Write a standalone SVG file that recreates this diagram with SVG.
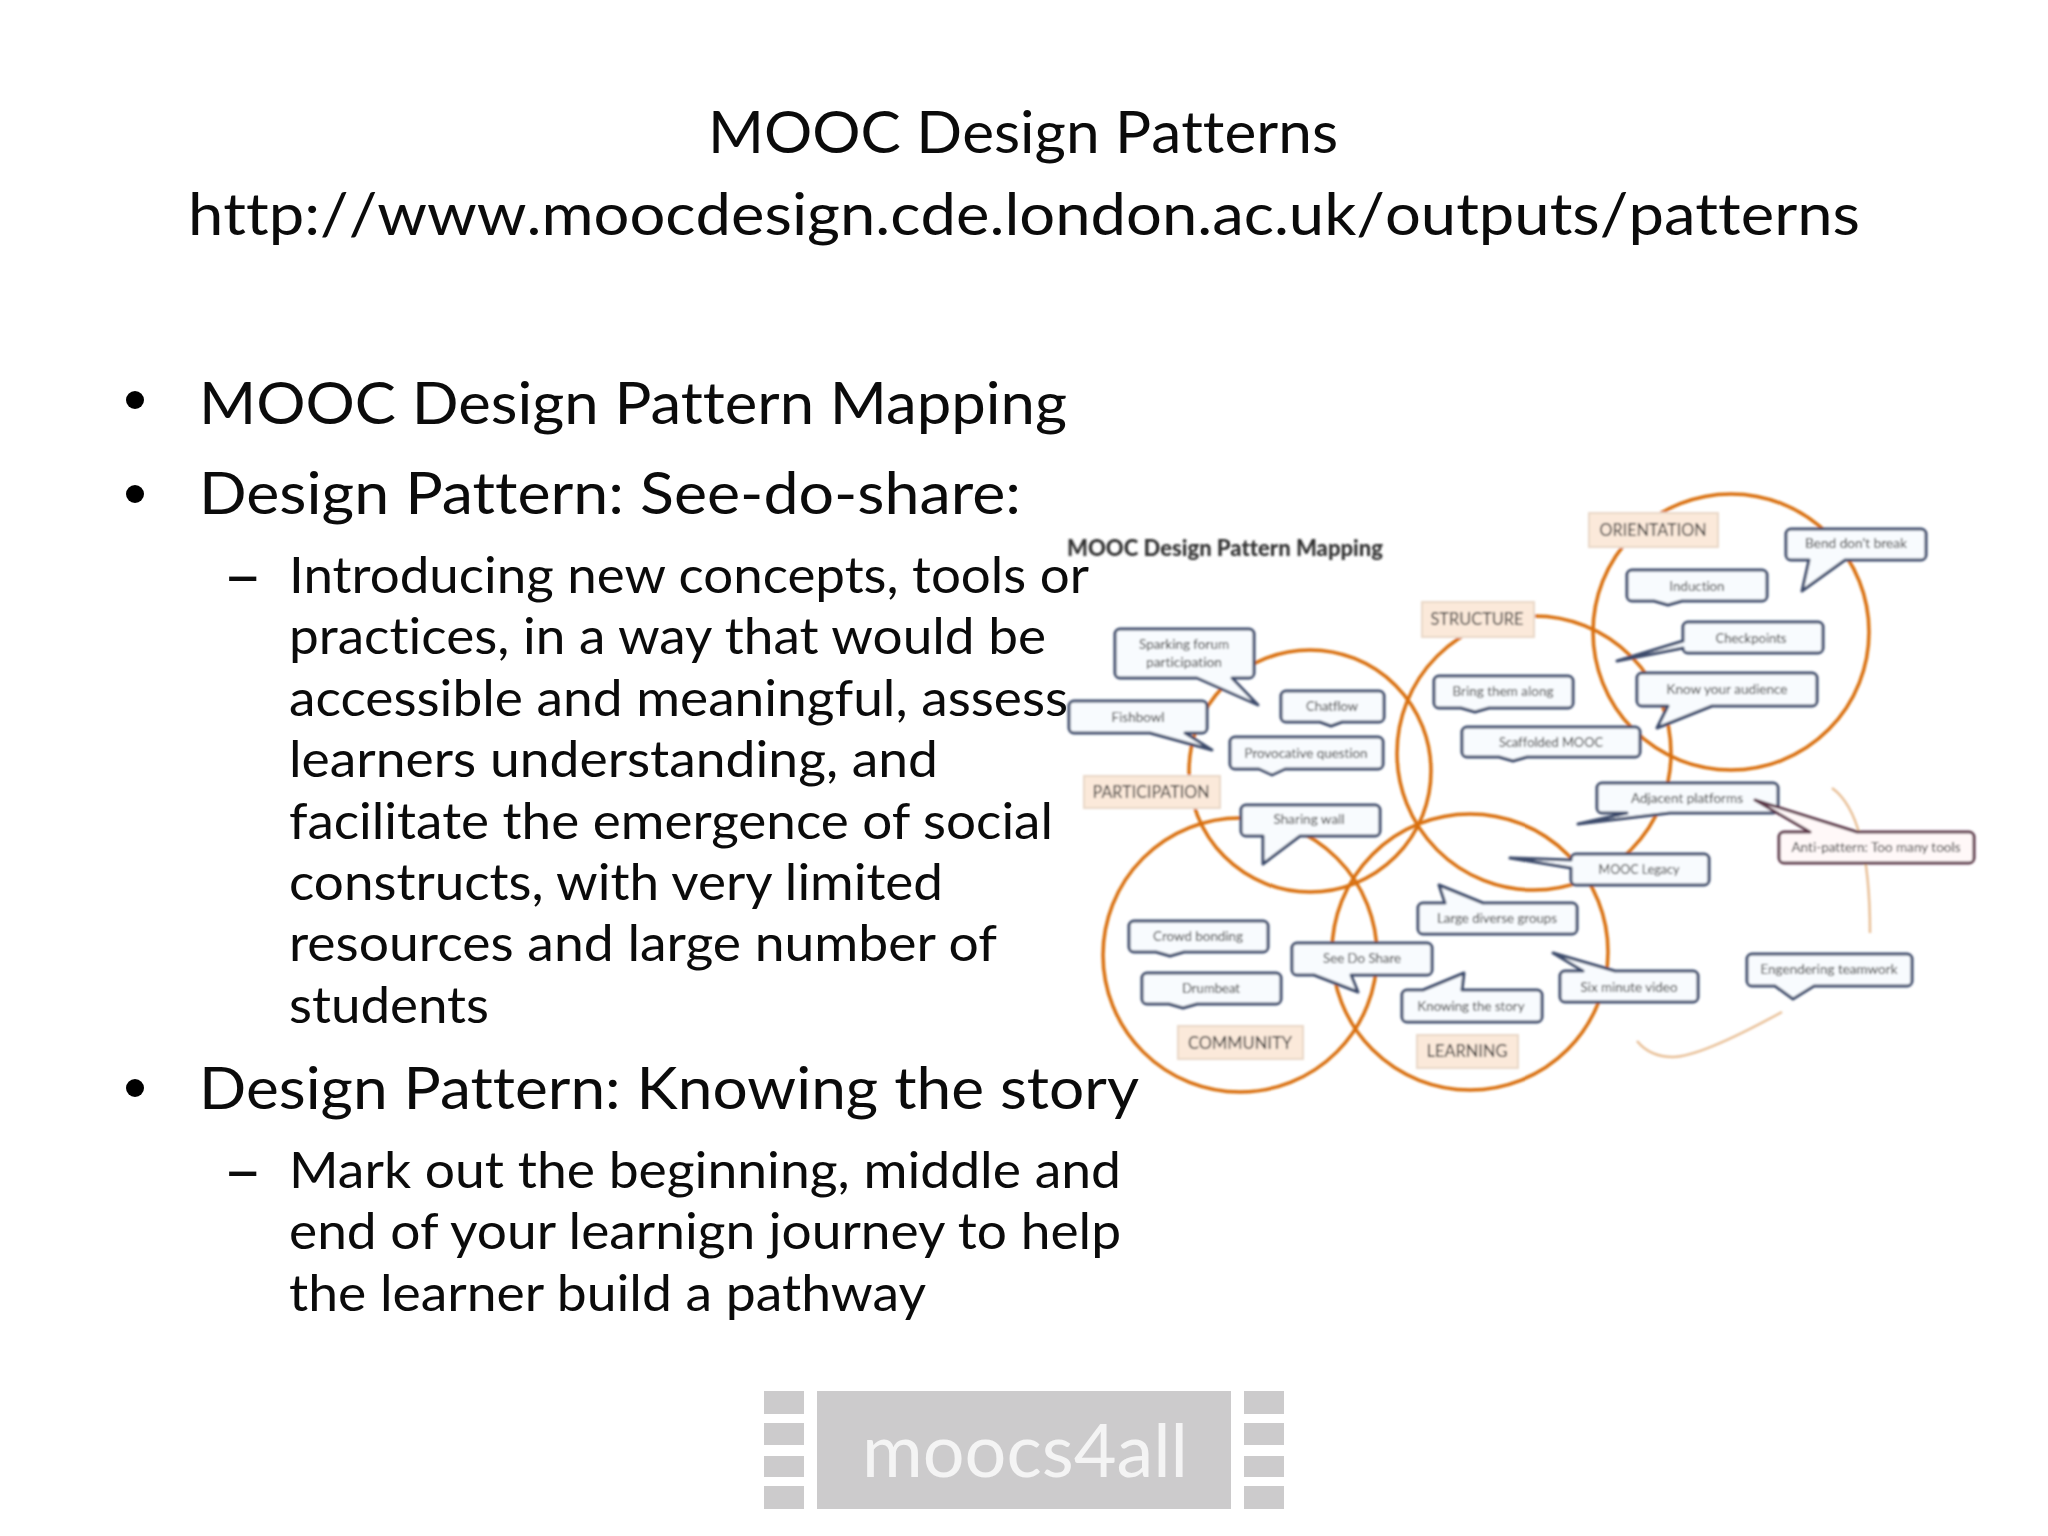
<svg xmlns="http://www.w3.org/2000/svg" width="2048" height="1536" viewBox="0 0 2048 1536">
<defs>
<filter id="soft" x="-5%" y="-5%" width="110%" height="110%"><feGaussianBlur stdDeviation="0.8"/></filter>
<style>
text{font-family:"Lato","Carlito","Open Sans",sans-serif;fill:#0b0b0b;font-variant-ligatures:none}
.h{font-size:58px;font-kerning:none}
.b{font-size:58px}
.s{font-size:50px}
.d{font-size:68px}
.c{fill:none;stroke:#d96f0e;stroke-width:3.5}
.f{fill:none;stroke:#e8bf96;stroke-width:2.5}
.k{fill:#f8fbfe;stroke:#3c4c6c;stroke-width:3;stroke-linejoin:round}
.p{fill:#fff8f8;stroke:#5f3a4c;stroke-width:3;stroke-linejoin:round}
.l{fill:#fbe9da;stroke:#e9d8c8;stroke-width:2}
.t{font-size:13px;fill:#2e2e2e;text-anchor:middle}
.lt{font-size:17px;fill:#2a2a2a;text-anchor:middle}
.g{fill:#cccbcc}
</style>
</defs>
<rect width="2048" height="1536" fill="#fff"/>
<g id="title">
<text class="h" x="708" y="153" textLength="630" lengthAdjust="spacingAndGlyphs">MOOC Design Patterns</text>
<text class="h" x="188" y="235" textLength="1672" lengthAdjust="spacingAndGlyphs">http://www.moocdesign.cde.london.ac.uk/outputs/patterns</text>
</g>
<g id="body">
<circle cx="135" cy="400" r="9" fill="#000"/>
<text class="b" x="199" y="424" textLength="868" lengthAdjust="spacingAndGlyphs">MOOC Design Pattern Mapping</text>
<circle cx="135" cy="494" r="9" fill="#000"/>
<text class="b" x="199" y="514" textLength="822" lengthAdjust="spacingAndGlyphs">Design Pattern: See-do-share:</text>
<text class="d" x="223" y="599">–</text>
<text class="s" x="289" y="593" textLength="800" lengthAdjust="spacingAndGlyphs">Introducing new concepts, tools or</text>
<text class="s" x="289" y="654" textLength="757" lengthAdjust="spacingAndGlyphs">practices, in a way that would be</text>
<text class="s" x="289" y="716" textLength="779" lengthAdjust="spacingAndGlyphs">accessible and meaningful, assess</text>
<text class="s" x="289" y="777" textLength="649" lengthAdjust="spacingAndGlyphs">learners understanding, and</text>
<text class="s" x="289" y="839" textLength="764" lengthAdjust="spacingAndGlyphs">facilitate the emergence of social</text>
<text class="s" x="289" y="900" textLength="654" lengthAdjust="spacingAndGlyphs">constructs, with very limited</text>
<text class="s" x="289" y="961" textLength="708" lengthAdjust="spacingAndGlyphs">resources and large number of</text>
<text class="s" x="289" y="1023" textLength="200" lengthAdjust="spacingAndGlyphs">students</text>
<circle cx="135" cy="1088" r="9" fill="#000"/>
<text class="b" x="199" y="1109" textLength="940" lengthAdjust="spacingAndGlyphs">Design Pattern: Knowing the story</text>
<text class="d" x="223" y="1194">–</text>
<text class="s" x="289" y="1188" textLength="832" lengthAdjust="spacingAndGlyphs">Mark out the beginning, middle and</text>
<text class="s" x="289" y="1249" textLength="832" lengthAdjust="spacingAndGlyphs">end of your learnign journey to help</text>
<text class="s" x="289" y="1311" textLength="637" lengthAdjust="spacingAndGlyphs">the learner build a pathway</text>
</g>
<g id="diagram" filter="url(#soft)">
<text x="1067" y="556" font-size="23" font-weight="900" style="fill:#333" textLength="316" lengthAdjust="spacingAndGlyphs">MOOC Design Pattern Mapping</text>
<g id="circles">
<circle class="c" cx="1310" cy="771" r="121"/>
<circle class="c" cx="1240" cy="955" r="137"/>
<circle class="c" cx="1470" cy="952" r="138"/>
<circle class="c" cx="1534" cy="753" r="137"/>
<circle class="c" cx="1731" cy="632" r="138"/>
</g>
<g id="connectors">
<path class="f" d="M1637 1041Q1650 1057 1673 1057Q1700 1057 1782 1012"/>
<path class="f" d="M1832 788Q1870 815 1870 933"/>
</g>
<g id="participation"><rect class="l" x="1084" y="776" width="136" height="32"/><text class="lt" x="1151" y="798" textLength="117" lengthAdjust="spacingAndGlyphs">PARTICIPATION</text></g>
<g id="structure"><rect class="l" x="1422" y="602" width="112" height="35"/><text class="lt" x="1477" y="625" textLength="93" lengthAdjust="spacingAndGlyphs">STRUCTURE</text></g>
<g id="orientation"><rect class="l" x="1589" y="513" width="129" height="34"/><text class="lt" x="1653" y="536" textLength="107" lengthAdjust="spacingAndGlyphs">ORIENTATION</text></g>
<g id="community"><rect class="l" x="1178" y="1026" width="125" height="33"/><text class="lt" x="1240" y="1049" textLength="104" lengthAdjust="spacingAndGlyphs">COMMUNITY</text></g>
<g id="learning"><rect class="l" x="1417" y="1035" width="101" height="33"/><text class="lt" x="1467" y="1057" textLength="81" lengthAdjust="spacingAndGlyphs">LEARNING</text></g>

<g id="sparking"><path class="k" d="M1120 629H1249a5 5 0 0 1 5 5V673a5 5 0 0 1 -5 5H1232L1258 705L1197 678H1120a5 5 0 0 1 -5 -5V634a5 5 0 0 1 5 -5Z"/><text class="t" x="1184" y="649" textLength="90" lengthAdjust="spacingAndGlyphs">Sparking forum</text><text class="t" x="1184" y="667" textLength="76" lengthAdjust="spacingAndGlyphs">participation</text></g>
<g id="fishbowl"><path class="k" d="M1074 701H1202a5 5 0 0 1 5 5V728a5 5 0 0 1 -5 5H1185L1212 750L1150 733H1074a5 5 0 0 1 -5 -5V706a5 5 0 0 1 5 -5Z"/><text class="t" x="1138" y="722" textLength="53" lengthAdjust="spacingAndGlyphs">Fishbowl</text></g>
<g id="chatflow"><path class="k" d="M1286 691H1379a5 5 0 0 1 5 5V717a5 5 0 0 1 -5 5H1342L1331 726L1320 722H1286a5 5 0 0 1 -5 -5V696a5 5 0 0 1 5 -5Z"/><text class="t" x="1332" y="711" textLength="52" lengthAdjust="spacingAndGlyphs">Chatflow</text></g>
<g id="provocative"><path class="k" d="M1235 737H1378a5 5 0 0 1 5 5V764a5 5 0 0 1 -5 5H1285L1272 775L1259 769H1235a5 5 0 0 1 -5 -5V742a5 5 0 0 1 5 -5Z"/><text class="t" x="1306" y="758" textLength="123" lengthAdjust="spacingAndGlyphs">Provocative question</text></g>
<g id="sharing-wall"><path class="k" d="M1246 805H1375a5 5 0 0 1 5 5V831a5 5 0 0 1 -5 5H1300L1263 864V836H1246a5 5 0 0 1 -5 -5V810a5 5 0 0 1 5 -5Z"/><text class="t" x="1309" y="824" textLength="71" lengthAdjust="spacingAndGlyphs">Sharing wall</text></g>

<g id="bring-them-along"><path class="k" d="M1439 676H1568a5 5 0 0 1 5 5V703a5 5 0 0 1 -5 5H1489L1475 712L1461 708H1439a5 5 0 0 1 -5 -5V681a5 5 0 0 1 5 -5Z"/><text class="t" x="1503" y="696" textLength="101" lengthAdjust="spacingAndGlyphs">Bring them along</text></g>
<g id="scaffolded"><path class="k" d="M1467 727H1635a5 5 0 0 1 5 5V752a5 5 0 0 1 -5 5H1527L1513 761L1499 757H1467a5 5 0 0 1 -5 -5V732a5 5 0 0 1 5 -5Z"/><text class="t" x="1551" y="747" textLength="104" lengthAdjust="spacingAndGlyphs">Scaffolded MOOC</text></g>

<g id="bend"><path class="k" d="M1791 529H1921a5 5 0 0 1 5 5V555a5 5 0 0 1 -5 5H1845L1802 591L1809 560H1791a5 5 0 0 1 -5 -5V534a5 5 0 0 1 5 -5Z"/><text class="t" x="1856" y="548" textLength="102" lengthAdjust="spacingAndGlyphs">Bend don't break</text></g>
<g id="induction"><path class="k" d="M1632 570H1762a5 5 0 0 1 5 5V596a5 5 0 0 1 -5 5H1682L1668 605L1654 601H1632a5 5 0 0 1 -5 -5V575a5 5 0 0 1 5 -5Z"/><text class="t" x="1697" y="591" textLength="55" lengthAdjust="spacingAndGlyphs">Induction</text></g>
<g id="checkpoints"><path class="k" d="M1688 622H1818a5 5 0 0 1 5 5V648a5 5 0 0 1 -5 5H1688a5 5 0 0 1 -5 -5L1617 661L1683 641V627a5 5 0 0 1 5 -5Z"/><text class="t" x="1751" y="643" textLength="71" lengthAdjust="spacingAndGlyphs">Checkpoints</text></g>
<g id="know"><path class="k" d="M1642 673H1812a5 5 0 0 1 5 5V701a5 5 0 0 1 -5 5H1712L1657 728L1668 706H1642a5 5 0 0 1 -5 -5V678a5 5 0 0 1 5 -5Z"/><text class="t" x="1727" y="694" textLength="121" lengthAdjust="spacingAndGlyphs">Know your audience</text></g>
<g id="adjacent"><path class="k" d="M1602 783H1773a5 5 0 0 1 5 5V808a5 5 0 0 1 -5 5H1670L1578 824L1627 813H1602a5 5 0 0 1 -5 -5V788a5 5 0 0 1 5 -5Z"/><text class="t" x="1687" y="803" textLength="112" lengthAdjust="spacingAndGlyphs">Adjacent platforms</text></g>
<g id="anti-pattern"><path class="p" d="M1784 832H1810L1755 800L1857 832H1969a5 5 0 0 1 5 5V858a5 5 0 0 1 -5 5H1784a5 5 0 0 1 -5 -5V837a5 5 0 0 1 5 -5Z"/><text class="t" x="1876" y="852" textLength="169" lengthAdjust="spacingAndGlyphs">Anti-pattern: Too many tools</text></g>
<g id="mooc-legacy"><path class="k" d="M1576 854H1704a5 5 0 0 1 5 5V880a5 5 0 0 1 -5 5H1576a5 5 0 0 1 -5 -5V868L1510 858L1571 860V859a5 5 0 0 1 5 -5Z"/><text class="t" x="1639" y="874" textLength="81" lengthAdjust="spacingAndGlyphs">MOOC Legacy</text></g>
<g id="large-diverse"><path class="k" d="M1423 903H1445L1439 885L1483 903H1572a5 5 0 0 1 5 5V929a5 5 0 0 1 -5 5H1423a5 5 0 0 1 -5 -5V908a5 5 0 0 1 5 -5Z"/><text class="t" x="1497" y="923" textLength="120" lengthAdjust="spacingAndGlyphs">Large diverse groups</text></g>
<g id="six-minute"><path class="k" d="M1565 971H1583L1553 953L1615 971H1693a5 5 0 0 1 5 5V997a5 5 0 0 1 -5 5H1565a5 5 0 0 1 -5 -5V976a5 5 0 0 1 5 -5Z"/><text class="t" x="1629" y="992" textLength="97" lengthAdjust="spacingAndGlyphs">Six minute video</text></g>
<g id="engendering"><path class="k" d="M1752 954H1907a5 5 0 0 1 5 5V981a5 5 0 0 1 -5 5H1814L1793 999L1775 986H1752a5 5 0 0 1 -5 -5V959a5 5 0 0 1 5 -5Z"/><text class="t" x="1829" y="974" textLength="137" lengthAdjust="spacingAndGlyphs">Engendering teamwork</text></g>
<g id="crowd-bonding"><path class="k" d="M1134 921H1263a5 5 0 0 1 5 5V947a5 5 0 0 1 -5 5H1184L1170 956L1156 952H1134a5 5 0 0 1 -5 -5V926a5 5 0 0 1 5 -5Z"/><text class="t" x="1198" y="941" textLength="90" lengthAdjust="spacingAndGlyphs">Crowd bonding</text></g>
<g id="drumbeat"><path class="k" d="M1147 973H1276a5 5 0 0 1 5 5V999a5 5 0 0 1 -5 5H1197L1183 1008L1169 1004H1147a5 5 0 0 1 -5 -5V978a5 5 0 0 1 5 -5Z"/><text class="t" x="1211" y="993" textLength="58" lengthAdjust="spacingAndGlyphs">Drumbeat</text></g>
<g id="see-do-share"><path class="k" d="M1297 943H1427a5 5 0 0 1 5 5V970a5 5 0 0 1 -5 5H1351L1358 992L1314 975H1297a5 5 0 0 1 -5 -5V948a5 5 0 0 1 5 -5Z"/><text class="t" x="1362" y="963" textLength="78" lengthAdjust="spacingAndGlyphs">See Do Share</text></g>
<g id="knowing-story"><path class="k" d="M1407 990H1423L1464 973L1462 990H1537a5 5 0 0 1 5 5V1017a5 5 0 0 1 -5 5H1407a5 5 0 0 1 -5 -5V995a5 5 0 0 1 5 -5Z"/><text class="t" x="1471" y="1011" textLength="107" lengthAdjust="spacingAndGlyphs">Knowing the story</text></g>
</g>
<g id="logo">
<rect class="g" x="764" y="1391" width="40" height="23"/><rect class="g" x="764" y="1423" width="40" height="22"/><rect class="g" x="764" y="1456" width="40" height="21"/><rect class="g" x="764" y="1486" width="40" height="23"/>
<rect class="g" x="817" y="1391" width="414" height="118"/>
<rect class="g" x="1244" y="1391" width="40" height="23"/><rect class="g" x="1244" y="1423" width="40" height="22"/><rect class="g" x="1244" y="1456" width="40" height="21"/><rect class="g" x="1244" y="1486" width="40" height="23"/>
<text x="862" y="1477" font-size="74" font-weight="400" style="fill:#f4f4f4" textLength="326" lengthAdjust="spacingAndGlyphs">moocs4all</text>
</g>
</svg>
